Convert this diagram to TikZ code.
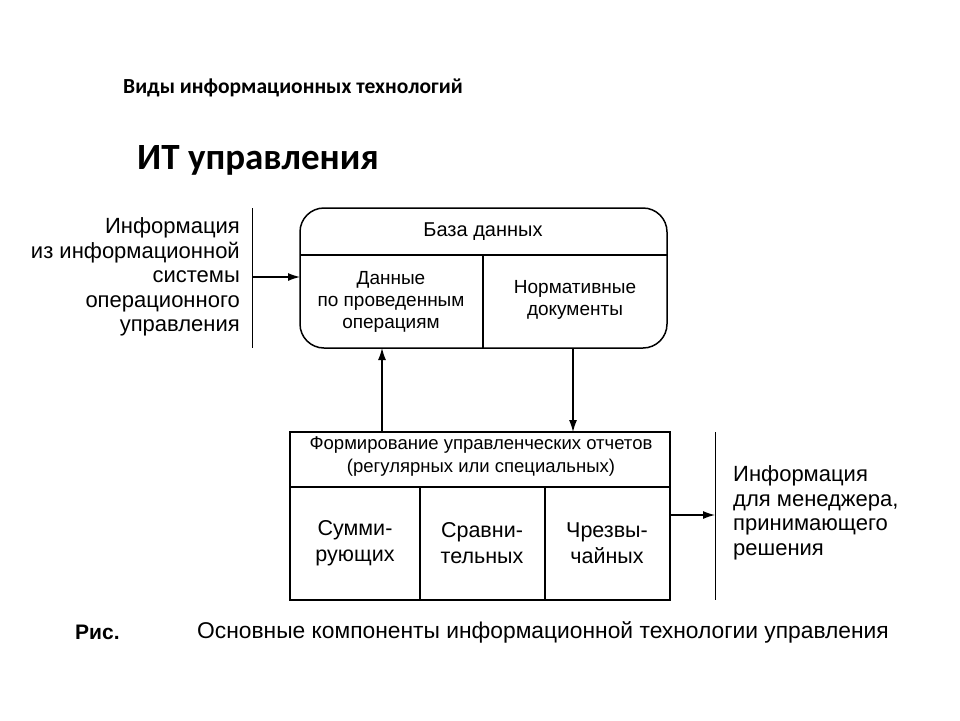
\documentclass[tikz,border=0pt]{standalone}
\usepackage{fontspec}
\setmainfont{Liberation Sans}
\newfontfamily\titlefont{Carlito}
\usetikzlibrary{positioning,arrows.meta}
\tikzset{
  box/.style={draw,line width=1.5pt},
  arr/.style={-{Latex[length=12pt,width=8pt]},line width=1.2pt},
  side/.style={font=\fontsize{22}{24.5}\selectfont,inner sep=0pt},
  cell/.style={font=\fontsize{19}{22}\selectfont,align=center,inner sep=0pt},
  big/.style={font=\fontsize{21.5}{26}\selectfont,align=center,inner sep=0pt}
}
\begin{document}
\begin{tikzpicture}[x=1pt,y=-1pt]
  \useasboundingbox (0,0) rectangle (960,720);
  %%% TITLES %%%
  \node[anchor=west,inner sep=0pt,font=\titlefont\bfseries\fontsize{21.5}{24}\selectfont] (kinds) at (123,88) {Виды информационных технологий};
  \node[anchor=west,inner sep=0pt,font=\titlefont\bfseries\fontsize{37}{40}\selectfont] (itm) at (137,160) {ИТ управления};

  %%% DATABASE %%%
  \draw[box,rounded corners=24pt] (300,208) rectangle (667,348);
  \draw[box] (300,255) -- (667,255);
  \draw[box] (483,255) -- (483,348);
  \node[cell,font=\fontsize{20}{22}\selectfont] (db) at (483,232) {База данных};
  \node[cell] (ops) at (391,302) {Данные\\по проведенным\\операциям};
  \node[cell] (norm) at (575,300) {Нормативные\\документы};

  %%% REPORTS %%%
  \draw[box] (290,432) rectangle (670,600);
  \draw[box] (290,487) -- (670,487);
  \draw[box] (420,487) -- (420,600);
  \draw[box] (545,487) -- (545,600);
  \node[cell,font=\fontsize{18.5}{23}\selectfont] (rep) at (481,457) {Формирование управленческих отчетов\\(регулярных или специальных)};
  \node[big] (sum) at (355,543) {Сумми-\\рующих};
  \node[big] (cmp) at (482,543) {Сравни-\\тельных};
  \node[big] (ext) at (607,543) {Чрезвы-\\чайных};

  %%% INPUT / OUTPUT %%%
  \node[side,align=right,anchor=east] (inp) at (240,277) {Информация\\из информационной\\системы\\операционного\\управления};
  \draw[line width=1pt] (252,208) -- (252,348);
  \coordinate (inL) at (252,277);
  \coordinate (inR) at (300,277);
  \draw[arr] (inL) -- (inR);
  \node[side,align=left,anchor=west] (outp) at (733,513) {Информация\\для менеджера,\\принимающего\\решения};
  \draw[line width=1pt] (715,432) -- (715,600);
  \coordinate (outL) at (670,515);
  \coordinate (outR) at (715,515);
  \draw[arr] (outL) -- (outR);

  %%% LINKS %%%
  \coordinate (upB) at (382,432);
  \coordinate (upT) at (382,348);
  \coordinate (dnT) at (573,348);
  \coordinate (dnB) at (573,432);
  \draw[arr] (upB) -- (upT);
  \draw[arr] (dnT) -- (dnB);

  %%% CAPTION %%%
  \node[anchor=west,inner sep=0pt,font=\bfseries\fontsize{21}{24}\selectfont] (ris) at (75,632) {Рис.};
  \node[anchor=west,inner sep=0pt,font=\fontsize{22.8}{24}\selectfont] (cap) at (197,632) {Основные компоненты информационной технологии управления};
\end{tikzpicture}
\end{document}
